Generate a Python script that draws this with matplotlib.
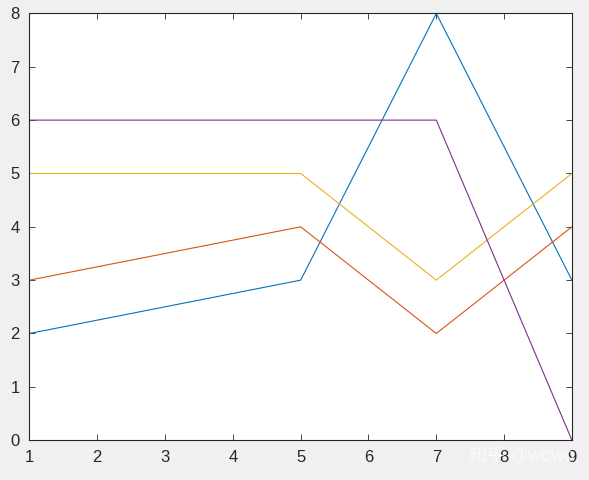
import matplotlib
matplotlib.use('Agg')
import matplotlib.pyplot as plt

x = [1, 5, 7, 9]
y1 = [2, 3, 8, 3]
y2 = [3, 4, 2, 4]
y3 = [5, 5, 3, 5]
y4 = [6, 6, 6, 0]
colors = ['#0072BD', '#D95319', '#EDB120', '#7E2F8E']

plt.rcParams['font.family'] = ['Liberation Sans', 'Noto Sans CJK SC', 'DejaVu Sans']

fig = plt.figure(figsize=(5.89, 4.80), dpi=100, facecolor='#F0F0F0')
ax = fig.add_axes([0.050, 0.083, 0.921, 0.889])

for y, c in zip([y1, y2, y3, y4], colors):
    ax.plot(x, y, color=c, linewidth=0.8)

ax.set_xlim(1, 9)
ax.set_ylim(0, 8)
ax.set_xticks(range(1, 10))
ax.set_yticks(range(0, 9))
ax.tick_params(direction='in', top=True, right=True, labelsize=12,
               length=4, width=0.6, colors='#262626')
ax.tick_params(axis='x', pad=7)
ax.tick_params(axis='y', pad=7)
for s in ax.spines.values():
    s.set_linewidth(0.8)
    s.set_color('#262626')

# watermark
fig.text(0.975, 0.032, '知乎 @wowo', ha='right', va='bottom', fontsize=13,
         color='white', alpha=0.7)

fig.savefig('out.png', dpi=100, facecolor=fig.get_facecolor())
